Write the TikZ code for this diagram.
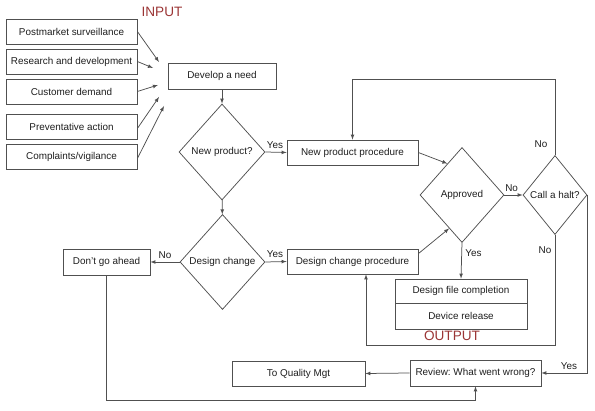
\documentclass[tikz,border=0pt]{standalone}
\usepackage{fontspec}
\setmainfont{Liberation Sans}
\usetikzlibrary{shapes.geometric, arrows}
\definecolor{lin}{HTML}{505050}
\definecolor{txt}{HTML}{1E1E1E}
\definecolor{lbl}{HTML}{9B3535}
\frenchspacing

\begin{document}
\begin{tikzpicture}[x=1pt, y=-1pt,
  font=\fontsize{9.9}{11}\selectfont, text=txt,
  blk/.style={draw=lin, line width=0.75pt, rectangle, minimum width=131pt, minimum height=25pt, inner sep=1pt},
  dmd/.style={draw=lin, line width=0.75pt, diamond, inner sep=0pt},
  lnk/.style={draw=lin, line width=0.75pt, -latex},
  io/.style={text=lbl, font=\fontsize{13.6}{15}\selectfont}]
\useasboundingbox (0,0) rectangle (595,411);

% inputs
\node[io](in) at (162,12){INPUT};
\node[blk](pms) at (71.5,31.5){Postmarket surveillance};
\node[blk](rnd) at (71.5,61.5){Research and development};
\node[blk](cus) at (71.5,91.5){Customer demand};
\node[blk](pre) at (71.5,126.5){Preventative action};
\node[blk](cmp) at (71.5,156.5){Complaints/vigilance};
\coordinate (i1) at (159,62);
\coordinate (i2) at (153,68);
\coordinate (i3) at (158,85);
\coordinate (i4) at (159,97);
\coordinate (i5) at (164,106);
\draw[lnk] (pms.east) -- (i1);
\draw[lnk] (rnd.east) -- (i2);
\draw[lnk] (cus.east) -- (i3);
\draw[lnk] ([yshift=-2pt]pre.east) -- (i4);
\draw[lnk] ([yshift=-2pt]cmp.east) -- (i5);

% decisions
\node[blk, minimum width=108pt, minimum height=26pt](dev) at (222,76){Develop a need};
\node[dmd, minimum width=86pt, minimum height=96pt](npq) at (222,152){New product?};
\node[dmd, minimum width=85pt, minimum height=95pt](dc) at (222.5,262){Design change};
\node[blk, minimum width=87pt, minimum height=26pt](dga) at (106.5,262){Don't go ahead};
\node[blk](npp) at (352.5,152.5){New product procedure};
\node[blk](dcp) at (352.5,261.5){Design change procedure};
\node[dmd, minimum width=84pt, minimum height=95pt](app) at (462,195){Approved};
\node[dmd, minimum width=64pt, minimum height=79pt](hlt) at (555,195){Call a halt?};

% outputs
\node[blk, minimum width=132pt, minimum height=24pt](dfc) at (461,291){Design file completion};
\node[blk, minimum width=132pt, minimum height=26pt](rel) at (461,316){Device release};
\node[io](out) at (452,336){OUTPUT};
\node[blk, minimum height=26pt](rev) at (475.5,373){Review: What went wrong?};
\node[blk, minimum width=133pt](tqm) at (298.5,373.5){To Quality Mgt};

\draw[lnk] (dev) -- (npq);
\draw[lnk] (npq) -- (dc);
\draw[lnk] (npq.east) -- (npp.west) node[above, pos=.45]{Yes};
\draw[lnk] (dc.west) -- (dga.east) node[above, pos=.5]{No};
\draw[lnk] (dc.east) -- (dcp.west) node[above, pos=.45]{Yes};
\draw[lnk] (npp.east) -- (app.115);
\draw[lnk] ([yshift=-5pt]dcp.north east) -- (app.249);
\draw[lnk] (app.east) -- (hlt.west) node[above, pos=.4]{No};
\draw[lnk] (app.south) -- (dfc.north) node[right, pos=.3]{Yes};
\draw[lnk] (hlt.north) -- node[left=4pt, pos=.15]{No} ++(0,-76) -| (npp.north);
\draw[lnk] (hlt.south) -- node[left, pos=.14]{No} ++(0,111) -| ([xshift=13.5pt]dcp.south);
\draw[lnk] (hlt.east) |- (rev.east) node[above, pos=.7]{Yes};
\draw[lnk] (rev.west) -- (tqm.east);
\draw[lnk] (dga.south) -- ++(0,125) -| (rev.south);
\end{tikzpicture}
\end{document}
